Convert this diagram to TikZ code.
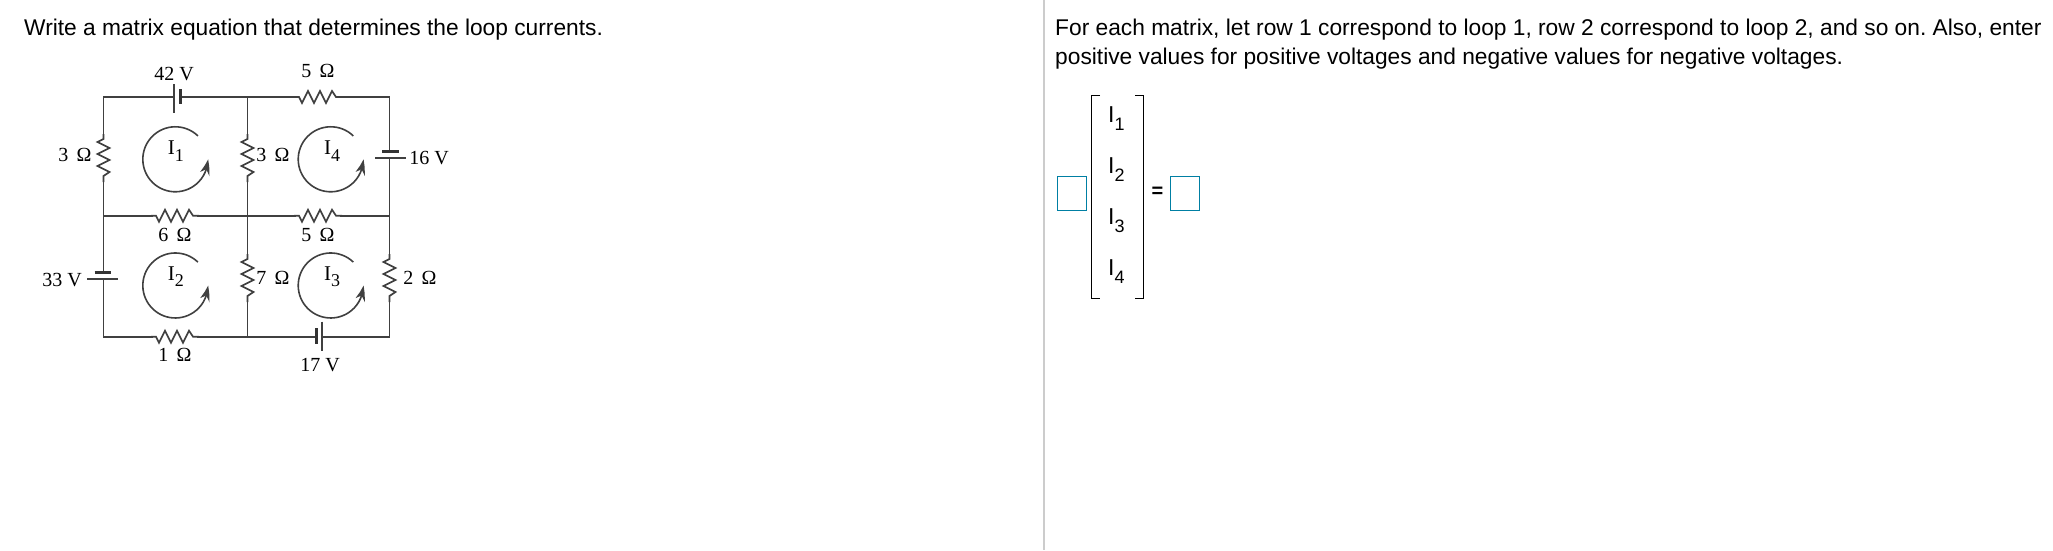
\documentclass[tikz,border=0pt]{standalone}
\usepackage{fontspec}
\setmainfont{Liberation Serif}
\newfontfamily\arialf{Liberation Sans}
\usetikzlibrary{arrows.meta,bending}
\definecolor{wirec}{HTML}{404040}
\definecolor{boxc}{HTML}{007FA3}
\tikzset{
  x=1pt,y=-1pt,
  wire/.style={draw=wirec,line width=1.7pt},
  thickplate/.style={draw=black!80,line width=3pt},
  loopc/.style={draw=wirec,line width=1.6pt,-{Stealth[length=15pt,width=10pt,bend]}},
  lbl/.style={font=\fontsize{20}{20}\selectfont,text=black,inner sep=0pt},
  cur/.style={font=\fontsize{21}{21}\selectfont,text=black,inner sep=0pt,anchor=base west},
  para/.style={font=\arialf\fontsize{22.75}{30}\selectfont,text=black,inner sep=0pt,anchor=base west},
  mat/.style={font=\arialf\fontsize{23}{23}\selectfont,text=black,inner sep=0pt,anchor=base west},
  ansbox/.style={draw=boxc,line width=1.2pt,fill=white,minimum width=29pt,minimum height=34pt,inner sep=0pt},
  brk/.style={draw=black,line width=1.2pt}
}
\newcommand{\resH}[2]{% center x, y
  \draw[wire] (#1-24,#2) -- (#1-19,#2) -- (#1-16,#2+6) -- (#1-10,#2-6) -- (#1-4,#2+6) -- (#1+2,#2-6) -- (#1+8,#2+6) -- (#1+14,#2-6) -- (#1+18,#2) -- (#1+24,#2);}
\newcommand{\resV}[2]{%
  \draw[wire] (#1,#2-24) -- (#1,#2-19) -- (#1-6,#2-16) -- (#1+6,#2-10) -- (#1-6,#2-4) -- (#1+6,#2+2) -- (#1-6,#2+8) -- (#1+6,#2+14) -- (#1,#2+18) -- (#1,#2+24);}
\newcommand{\subI}[1]{\raisebox{-6.5pt}{\fontsize{18}{18}\selectfont #1}}
\newcommand{\subM}[1]{\raisebox{-8pt}{\fontsize{18}{18}\selectfont #1}}
\begin{document}
\frenchspacing
\begin{tikzpicture}
\useasboundingbox (0,0) rectangle (2053,550);
\fill[white] (0,0) rectangle (2053,550);
\draw[draw=black!20,line width=1.6pt] (1044,0) -- (1044,550);
\node[para] (t1) at (24,35) {Write a matrix equation that determines the loop currents.};
\node[para] (t2) at (1055,35) {For each matrix, let row 1 correspond to loop 1, row 2 correspond to loop 2, and so on. Also, enter};
\node[para] (t3) at (1055,64) {positive values for positive voltages and negative values for negative voltages.};
% wires
\draw[wire] (103.5,336.7) -- (103.5,97) -- (389.5,97) -- (389.5,336.7) -- cycle;
\draw[wire] (247.5,97) -- (247.5,336.7);
\draw[wire] (103.5,215.7) -- (389.5,215.7);
% resistors: white gaps
\foreach \a/\b in {318/97,175/215.7,318/215.7,175/336.7}{
  \draw[draw=white,line width=3pt] (\a-22,\b) -- (\a+22,\b);
  \resH{\a}{\b}
}
\foreach \a/\b in {103.5/158,247.5/158,247.5/278,389.5/278}{
  \draw[draw=white,line width=3pt] (\a,\b-22) -- (\a,\b+22);
  \resV{\a}{\b}
}
% batteries
\draw[draw=white,line width=3pt] (174.5,97) -- (179,97);
\draw[wire] (173.7,84) -- (173.7,113);
\draw[thickplate] (180,89) -- (180,104);
\draw[draw=white,line width=3pt] (389.5,153) -- (389.5,157);
\draw[wire] (375,158.3) -- (406,158.3);
\draw[thickplate] (382,151.7) -- (399,151.7);
\draw[draw=white,line width=3pt] (103.5,274) -- (103.5,278);
\draw[wire] (87.3,279.3) -- (118.3,279.3);
\draw[thickplate] (94.5,272.7) -- (111,272.7);
\draw[draw=white,line width=3pt] (317,336.7) -- (321,336.7);
\draw[wire] (321.7,321.7) -- (321.7,351);
\draw[thickplate] (316,328) -- (316,344);
% loops
\foreach \cx/\cy in {175.3/159.3,330.7/159.3,175.3/285.5,330.7/285.5}{
  \draw[loopc] (\cx+22.6,\cy-23.4) arc[start angle=-46,end angle=-360,radius=32.5];
}
% labels
\node[lbl] (v42) at (174,74) {42 V};
\node[lbl] (r5a) at (318,71) {5 \,Ω};
\node[lbl] (r3a) at (75,155) {3 \,Ω};
\node[lbl] (r3b) at (273,155) {3 \,Ω};
\node[lbl] (v16) at (429,158) {16 V};
\node[lbl] (r6) at (175,235) {6 \,Ω};
\node[lbl] (r5b) at (318,235) {5 \,Ω};
\node[lbl] (v33) at (62,280) {33 V};
\node[lbl] (r7) at (273,278) {7 \,Ω};
\node[lbl] (r2) at (420,278) {2 \,Ω};
\node[lbl] (r1) at (175,355) {1 \,Ω};
\node[lbl] (v17) at (320,365) {17 V};
\node[cur] (i1) at (167.7,154.7) {I\subI{1}};
\node[cur] (i4) at (324,154.7) {I\subI{4}};
\node[cur] (i2) at (167.7,280) {I\subI{2}};
\node[cur] (i3) at (324,280) {I\subI{3}};
% matrix
\node[ansbox] (b1) at (1072,193.3) {};
\node[ansbox] (b2) at (1185,193.3) {};
\draw[brk] (1100,95.3) -- (1091.7,95.3) -- (1091.7,298.3) -- (1100,298.3);
\draw[brk] (1135,95.3) -- (1143.3,95.3) -- (1143.3,298.3) -- (1135,298.3);
\node[mat] (m1) at (1108,122.7) {I\subM{1}};
\node[mat] (m2) at (1108,173.7) {I\subM{2}};
\node[mat] (m3) at (1108,224.7) {I\subM{3}};
\node[mat] (m4) at (1108,275.7) {I\subM{4}};
\node[mat,anchor=center,font=\arialf\bfseries\fontsize{20}{20}\selectfont] (eq) at (1157.5,192.5) {=};
\end{tikzpicture}
\end{document}
